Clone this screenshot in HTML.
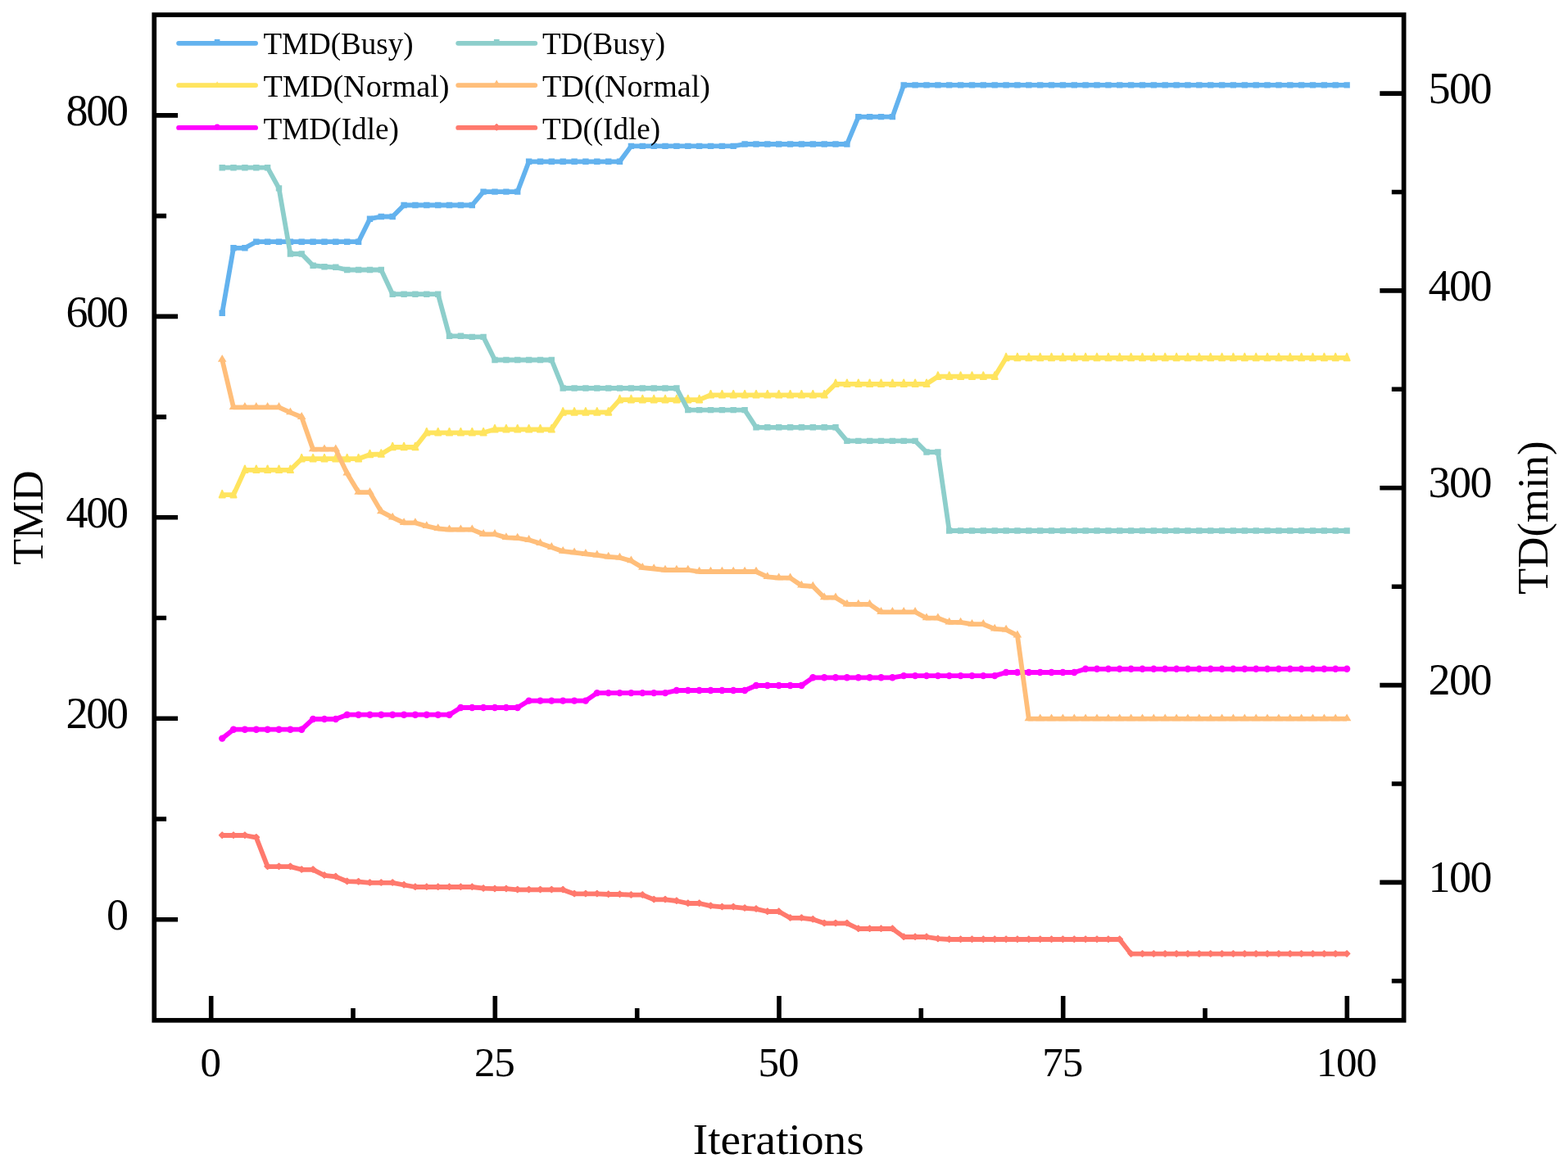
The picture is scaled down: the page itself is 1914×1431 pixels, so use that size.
<!DOCTYPE html>
<html lang="en">
<head>
<meta charset="utf-8">
<title>TMD and TD versus Iterations</title>
<style>
html,body{margin:0;padding:0;background:#fff;}
body{width:1914px;height:1431px;overflow:hidden;}
svg{display:block;}
text{font-family:"Liberation Serif","DejaVu Serif",serif;fill:#000;}
.tick{font-size:54px;letter-spacing:-2.3px;}
.tickb{font-size:51px;letter-spacing:-1.1px;}
.title{font-size:52.5px;}
.leg{font-size:37px;}
</style>
</head>
<body>
<svg width="1914" height="1431" viewBox="0 0 1914 1431">
<rect width="1914" height="1431" fill="#fff"/>
<g id="tmd_busy"><polyline points="271.2,382.2 285.0,302.8 298.9,302.8 312.8,295.2 326.6,295.2 340.5,295.2 354.4,295.2 368.2,295.2 382.1,295.2 396.0,295.2 409.8,295.2 423.7,295.2 437.6,295.2 451.5,267.2 465.3,264.5 479.2,264.5 493.1,250.5 506.9,250.5 520.8,250.5 534.7,250.5 548.5,250.5 562.4,250.5 576.3,250.5 590.1,234.1 604.0,234.1 617.9,234.1 631.7,234.1 645.6,197.3 659.5,197.3 673.3,197.3 687.2,197.3 701.1,197.3 714.9,197.3 728.8,197.3 742.7,197.3 756.5,197.3 770.4,178.4 784.3,178.4 798.2,178.4 812.0,178.4 825.9,178.4 839.8,178.4 853.6,178.4 867.5,178.4 881.4,178.4 895.2,178.4 909.1,176.0 923.0,176.0 936.8,176.0 950.7,176.0 964.6,176.0 978.4,176.0 992.3,176.0 1006.2,176.0 1020.0,176.0 1033.9,176.0 1047.8,142.6 1061.6,142.6 1075.5,142.6 1089.4,142.6 1103.2,103.9 1117.1,103.9 1131.0,103.9 1144.9,103.9 1158.7,103.9 1172.6,103.9 1186.5,103.9 1200.3,103.9 1214.2,103.9 1228.1,103.9 1241.9,103.9 1255.8,103.9 1269.7,103.9 1283.5,103.9 1297.4,103.9 1311.3,103.9 1325.1,103.9 1339.0,103.9 1352.9,103.9 1366.7,103.9 1380.6,103.9 1394.5,103.9 1408.3,103.9 1422.2,103.9 1436.1,103.9 1449.9,103.9 1463.8,103.9 1477.7,103.9 1491.6,103.9 1505.4,103.9 1519.3,103.9 1533.2,103.9 1547.0,103.9 1560.9,103.9 1574.8,103.9 1588.6,103.9 1602.5,103.9 1616.4,103.9 1630.2,103.9 1644.1,103.9" fill="none" stroke="#63B2EE" stroke-width="5.8" stroke-linejoin="round" stroke-linecap="butt"/><path d="M267.5 378.5h7.4v7.4h-7.4zM281.3 299.1h7.4v7.4h-7.4zM295.2 299.1h7.4v7.4h-7.4zM309.1 291.5h7.4v7.4h-7.4zM322.9 291.5h7.4v7.4h-7.4zM336.8 291.5h7.4v7.4h-7.4zM350.7 291.5h7.4v7.4h-7.4zM364.5 291.5h7.4v7.4h-7.4zM378.4 291.5h7.4v7.4h-7.4zM392.3 291.5h7.4v7.4h-7.4zM406.1 291.5h7.4v7.4h-7.4zM420.0 291.5h7.4v7.4h-7.4zM433.9 291.5h7.4v7.4h-7.4zM447.8 263.5h7.4v7.4h-7.4zM461.6 260.8h7.4v7.4h-7.4zM475.5 260.8h7.4v7.4h-7.4zM489.4 246.8h7.4v7.4h-7.4zM503.2 246.8h7.4v7.4h-7.4zM517.1 246.8h7.4v7.4h-7.4zM531.0 246.8h7.4v7.4h-7.4zM544.8 246.8h7.4v7.4h-7.4zM558.7 246.8h7.4v7.4h-7.4zM572.6 246.8h7.4v7.4h-7.4zM586.4 230.4h7.4v7.4h-7.4zM600.3 230.4h7.4v7.4h-7.4zM614.2 230.4h7.4v7.4h-7.4zM628.0 230.4h7.4v7.4h-7.4zM641.9 193.6h7.4v7.4h-7.4zM655.8 193.6h7.4v7.4h-7.4zM669.6 193.6h7.4v7.4h-7.4zM683.5 193.6h7.4v7.4h-7.4zM697.4 193.6h7.4v7.4h-7.4zM711.2 193.6h7.4v7.4h-7.4zM725.1 193.6h7.4v7.4h-7.4zM739.0 193.6h7.4v7.4h-7.4zM752.8 193.6h7.4v7.4h-7.4zM766.7 174.7h7.4v7.4h-7.4zM780.6 174.7h7.4v7.4h-7.4zM794.5 174.7h7.4v7.4h-7.4zM808.3 174.7h7.4v7.4h-7.4zM822.2 174.7h7.4v7.4h-7.4zM836.1 174.7h7.4v7.4h-7.4zM849.9 174.7h7.4v7.4h-7.4zM863.8 174.7h7.4v7.4h-7.4zM877.7 174.7h7.4v7.4h-7.4zM891.5 174.7h7.4v7.4h-7.4zM905.4 172.3h7.4v7.4h-7.4zM919.3 172.3h7.4v7.4h-7.4zM933.1 172.3h7.4v7.4h-7.4zM947.0 172.3h7.4v7.4h-7.4zM960.9 172.3h7.4v7.4h-7.4zM974.7 172.3h7.4v7.4h-7.4zM988.6 172.3h7.4v7.4h-7.4zM1002.5 172.3h7.4v7.4h-7.4zM1016.3 172.3h7.4v7.4h-7.4zM1030.2 172.3h7.4v7.4h-7.4zM1044.1 138.9h7.4v7.4h-7.4zM1057.9 138.9h7.4v7.4h-7.4zM1071.8 138.9h7.4v7.4h-7.4zM1085.7 138.9h7.4v7.4h-7.4zM1099.5 100.2h7.4v7.4h-7.4zM1113.4 100.2h7.4v7.4h-7.4zM1127.3 100.2h7.4v7.4h-7.4zM1141.2 100.2h7.4v7.4h-7.4zM1155.0 100.2h7.4v7.4h-7.4zM1168.9 100.2h7.4v7.4h-7.4zM1182.8 100.2h7.4v7.4h-7.4zM1196.6 100.2h7.4v7.4h-7.4zM1210.5 100.2h7.4v7.4h-7.4zM1224.4 100.2h7.4v7.4h-7.4zM1238.2 100.2h7.4v7.4h-7.4zM1252.1 100.2h7.4v7.4h-7.4zM1266.0 100.2h7.4v7.4h-7.4zM1279.8 100.2h7.4v7.4h-7.4zM1293.7 100.2h7.4v7.4h-7.4zM1307.6 100.2h7.4v7.4h-7.4zM1321.4 100.2h7.4v7.4h-7.4zM1335.3 100.2h7.4v7.4h-7.4zM1349.2 100.2h7.4v7.4h-7.4zM1363.0 100.2h7.4v7.4h-7.4zM1376.9 100.2h7.4v7.4h-7.4zM1390.8 100.2h7.4v7.4h-7.4zM1404.6 100.2h7.4v7.4h-7.4zM1418.5 100.2h7.4v7.4h-7.4zM1432.4 100.2h7.4v7.4h-7.4zM1446.2 100.2h7.4v7.4h-7.4zM1460.1 100.2h7.4v7.4h-7.4zM1474.0 100.2h7.4v7.4h-7.4zM1487.9 100.2h7.4v7.4h-7.4zM1501.7 100.2h7.4v7.4h-7.4zM1515.6 100.2h7.4v7.4h-7.4zM1529.5 100.2h7.4v7.4h-7.4zM1543.3 100.2h7.4v7.4h-7.4zM1557.2 100.2h7.4v7.4h-7.4zM1571.1 100.2h7.4v7.4h-7.4zM1584.9 100.2h7.4v7.4h-7.4zM1598.8 100.2h7.4v7.4h-7.4zM1612.7 100.2h7.4v7.4h-7.4zM1626.5 100.2h7.4v7.4h-7.4zM1640.4 100.2h7.4v7.4h-7.4z" fill="#63B2EE"/></g>
<g id="tmd_normal"><polyline points="271.2,604.2 285.0,604.2 298.9,573.8 312.8,573.8 326.6,573.8 340.5,573.8 354.4,573.8 368.2,560.2 382.1,560.2 396.0,560.2 409.8,560.2 423.7,560.2 437.6,560.2 451.5,555.0 465.3,554.5 479.2,546.0 493.1,546.0 506.9,546.0 520.8,528.3 534.7,528.3 548.5,528.3 562.4,528.3 576.3,528.3 590.1,528.3 604.0,524.3 617.9,524.3 631.7,524.3 645.6,524.3 659.5,524.3 673.3,524.3 687.2,503.4 701.1,503.4 714.9,503.4 728.8,503.4 742.7,503.4 756.5,488.1 770.4,488.1 784.3,488.1 798.2,488.1 812.0,488.1 825.9,488.1 839.8,488.1 853.6,488.1 867.5,482.3 881.4,482.3 895.2,482.3 909.1,482.3 923.0,482.3 936.8,482.3 950.7,482.3 964.6,482.3 978.4,482.3 992.3,482.3 1006.2,482.3 1020.0,468.8 1033.9,468.8 1047.8,468.8 1061.6,468.8 1075.5,468.8 1089.4,468.8 1103.2,468.8 1117.1,468.8 1131.0,468.8 1144.9,459.7 1158.7,459.7 1172.6,459.7 1186.5,459.7 1200.3,459.7 1214.2,459.7 1228.1,436.9 1241.9,436.9 1255.8,436.9 1269.7,436.9 1283.5,436.9 1297.4,436.9 1311.3,436.9 1325.1,436.9 1339.0,436.9 1352.9,436.9 1366.7,436.9 1380.6,436.9 1394.5,436.9 1408.3,436.9 1422.2,436.9 1436.1,436.9 1449.9,436.9 1463.8,436.9 1477.7,436.9 1491.6,436.9 1505.4,436.9 1519.3,436.9 1533.2,436.9 1547.0,436.9 1560.9,436.9 1574.8,436.9 1588.6,436.9 1602.5,436.9 1616.4,436.9 1630.2,436.9 1644.1,436.9" fill="none" stroke="#FFE45E" stroke-width="5.8" stroke-linejoin="round" stroke-linecap="butt"/><path d="M271.2 598.9l3.5 8.6h-7zM285.0 598.9l3.5 8.6h-7zM298.9 568.5l3.5 8.6h-7zM312.8 568.5l3.5 8.6h-7zM326.6 568.5l3.5 8.6h-7zM340.5 568.5l3.5 8.6h-7zM354.4 568.5l3.5 8.6h-7zM368.2 554.9l3.5 8.6h-7zM382.1 554.9l3.5 8.6h-7zM396.0 554.9l3.5 8.6h-7zM409.8 554.9l3.5 8.6h-7zM423.7 554.9l3.5 8.6h-7zM437.6 554.9l3.5 8.6h-7zM451.5 549.7l3.5 8.6h-7zM465.3 549.2l3.5 8.6h-7zM479.2 540.7l3.5 8.6h-7zM493.1 540.7l3.5 8.6h-7zM506.9 540.7l3.5 8.6h-7zM520.8 523.0l3.5 8.6h-7zM534.7 523.0l3.5 8.6h-7zM548.5 523.0l3.5 8.6h-7zM562.4 523.0l3.5 8.6h-7zM576.3 523.0l3.5 8.6h-7zM590.1 523.0l3.5 8.6h-7zM604.0 519.0l3.5 8.6h-7zM617.9 519.0l3.5 8.6h-7zM631.7 519.0l3.5 8.6h-7zM645.6 519.0l3.5 8.6h-7zM659.5 519.0l3.5 8.6h-7zM673.3 519.0l3.5 8.6h-7zM687.2 498.1l3.5 8.6h-7zM701.1 498.1l3.5 8.6h-7zM714.9 498.1l3.5 8.6h-7zM728.8 498.1l3.5 8.6h-7zM742.7 498.1l3.5 8.6h-7zM756.5 482.8l3.5 8.6h-7zM770.4 482.8l3.5 8.6h-7zM784.3 482.8l3.5 8.6h-7zM798.2 482.8l3.5 8.6h-7zM812.0 482.8l3.5 8.6h-7zM825.9 482.8l3.5 8.6h-7zM839.8 482.8l3.5 8.6h-7zM853.6 482.8l3.5 8.6h-7zM867.5 477.0l3.5 8.6h-7zM881.4 477.0l3.5 8.6h-7zM895.2 477.0l3.5 8.6h-7zM909.1 477.0l3.5 8.6h-7zM923.0 477.0l3.5 8.6h-7zM936.8 477.0l3.5 8.6h-7zM950.7 477.0l3.5 8.6h-7zM964.6 477.0l3.5 8.6h-7zM978.4 477.0l3.5 8.6h-7zM992.3 477.0l3.5 8.6h-7zM1006.2 477.0l3.5 8.6h-7zM1020.0 463.5l3.5 8.6h-7zM1033.9 463.5l3.5 8.6h-7zM1047.8 463.5l3.5 8.6h-7zM1061.6 463.5l3.5 8.6h-7zM1075.5 463.5l3.5 8.6h-7zM1089.4 463.5l3.5 8.6h-7zM1103.2 463.5l3.5 8.6h-7zM1117.1 463.5l3.5 8.6h-7zM1131.0 463.5l3.5 8.6h-7zM1144.9 454.4l3.5 8.6h-7zM1158.7 454.4l3.5 8.6h-7zM1172.6 454.4l3.5 8.6h-7zM1186.5 454.4l3.5 8.6h-7zM1200.3 454.4l3.5 8.6h-7zM1214.2 454.4l3.5 8.6h-7zM1228.1 431.6l3.5 8.6h-7zM1241.9 431.6l3.5 8.6h-7zM1255.8 431.6l3.5 8.6h-7zM1269.7 431.6l3.5 8.6h-7zM1283.5 431.6l3.5 8.6h-7zM1297.4 431.6l3.5 8.6h-7zM1311.3 431.6l3.5 8.6h-7zM1325.1 431.6l3.5 8.6h-7zM1339.0 431.6l3.5 8.6h-7zM1352.9 431.6l3.5 8.6h-7zM1366.7 431.6l3.5 8.6h-7zM1380.6 431.6l3.5 8.6h-7zM1394.5 431.6l3.5 8.6h-7zM1408.3 431.6l3.5 8.6h-7zM1422.2 431.6l3.5 8.6h-7zM1436.1 431.6l3.5 8.6h-7zM1449.9 431.6l3.5 8.6h-7zM1463.8 431.6l3.5 8.6h-7zM1477.7 431.6l3.5 8.6h-7zM1491.6 431.6l3.5 8.6h-7zM1505.4 431.6l3.5 8.6h-7zM1519.3 431.6l3.5 8.6h-7zM1533.2 431.6l3.5 8.6h-7zM1547.0 431.6l3.5 8.6h-7zM1560.9 431.6l3.5 8.6h-7zM1574.8 431.6l3.5 8.6h-7zM1588.6 431.6l3.5 8.6h-7zM1602.5 431.6l3.5 8.6h-7zM1616.4 431.6l3.5 8.6h-7zM1630.2 431.6l3.5 8.6h-7zM1644.1 431.6l3.5 8.6h-7z" fill="#FFE45E" stroke="#FFE45E" stroke-width="2.0" stroke-linejoin="round"/></g>
<g id="tmd_idle"><polyline points="271.2,901.6 285.0,890.7 298.9,890.7 312.8,890.7 326.6,890.7 340.5,890.7 354.4,890.7 368.2,890.7 382.1,878.0 396.0,878.0 409.8,878.0 423.7,872.7 437.6,872.7 451.5,872.7 465.3,872.7 479.2,872.7 493.1,872.7 506.9,872.7 520.8,872.7 534.7,872.7 548.5,872.7 562.4,864.0 576.3,864.0 590.1,864.0 604.0,864.0 617.9,864.0 631.7,864.0 645.6,855.6 659.5,855.6 673.3,855.6 687.2,855.6 701.1,855.6 714.9,855.6 728.8,846.1 742.7,846.1 756.5,846.1 770.4,846.1 784.3,846.1 798.2,846.1 812.0,846.1 825.9,843.0 839.8,843.0 853.6,843.0 867.5,843.0 881.4,843.0 895.2,843.0 909.1,843.0 923.0,837.0 936.8,837.0 950.7,837.0 964.6,837.0 978.4,837.0 992.3,827.3 1006.2,827.3 1020.0,827.3 1033.9,827.3 1047.8,827.3 1061.6,827.3 1075.5,827.3 1089.4,827.3 1103.2,825.1 1117.1,825.1 1131.0,825.1 1144.9,825.1 1158.7,825.1 1172.6,825.1 1186.5,825.1 1200.3,825.1 1214.2,825.1 1228.1,821.0 1241.9,821.0 1255.8,821.0 1269.7,821.0 1283.5,821.0 1297.4,821.0 1311.3,821.0 1325.1,816.8 1339.0,816.8 1352.9,816.8 1366.7,816.8 1380.6,816.8 1394.5,816.8 1408.3,816.8 1422.2,816.8 1436.1,816.8 1449.9,816.8 1463.8,816.8 1477.7,816.8 1491.6,816.8 1505.4,816.8 1519.3,816.8 1533.2,816.8 1547.0,816.8 1560.9,816.8 1574.8,816.8 1588.6,816.8 1602.5,816.8 1616.4,816.8 1630.2,816.8 1644.1,816.8" fill="none" stroke="#FF00FF" stroke-width="5.8" stroke-linejoin="round" stroke-linecap="butt"/><path d="M267.0 901.6a4.2 4.2 0 1 0 8.4 0a4.2 4.2 0 1 0 -8.4 0zM280.8 890.7a4.2 4.2 0 1 0 8.4 0a4.2 4.2 0 1 0 -8.4 0zM294.7 890.7a4.2 4.2 0 1 0 8.4 0a4.2 4.2 0 1 0 -8.4 0zM308.6 890.7a4.2 4.2 0 1 0 8.4 0a4.2 4.2 0 1 0 -8.4 0zM322.4 890.7a4.2 4.2 0 1 0 8.4 0a4.2 4.2 0 1 0 -8.4 0zM336.3 890.7a4.2 4.2 0 1 0 8.4 0a4.2 4.2 0 1 0 -8.4 0zM350.2 890.7a4.2 4.2 0 1 0 8.4 0a4.2 4.2 0 1 0 -8.4 0zM364.0 890.7a4.2 4.2 0 1 0 8.4 0a4.2 4.2 0 1 0 -8.4 0zM377.9 878.0a4.2 4.2 0 1 0 8.4 0a4.2 4.2 0 1 0 -8.4 0zM391.8 878.0a4.2 4.2 0 1 0 8.4 0a4.2 4.2 0 1 0 -8.4 0zM405.6 878.0a4.2 4.2 0 1 0 8.4 0a4.2 4.2 0 1 0 -8.4 0zM419.5 872.7a4.2 4.2 0 1 0 8.4 0a4.2 4.2 0 1 0 -8.4 0zM433.4 872.7a4.2 4.2 0 1 0 8.4 0a4.2 4.2 0 1 0 -8.4 0zM447.3 872.7a4.2 4.2 0 1 0 8.4 0a4.2 4.2 0 1 0 -8.4 0zM461.1 872.7a4.2 4.2 0 1 0 8.4 0a4.2 4.2 0 1 0 -8.4 0zM475.0 872.7a4.2 4.2 0 1 0 8.4 0a4.2 4.2 0 1 0 -8.4 0zM488.9 872.7a4.2 4.2 0 1 0 8.4 0a4.2 4.2 0 1 0 -8.4 0zM502.7 872.7a4.2 4.2 0 1 0 8.4 0a4.2 4.2 0 1 0 -8.4 0zM516.6 872.7a4.2 4.2 0 1 0 8.4 0a4.2 4.2 0 1 0 -8.4 0zM530.5 872.7a4.2 4.2 0 1 0 8.4 0a4.2 4.2 0 1 0 -8.4 0zM544.3 872.7a4.2 4.2 0 1 0 8.4 0a4.2 4.2 0 1 0 -8.4 0zM558.2 864.0a4.2 4.2 0 1 0 8.4 0a4.2 4.2 0 1 0 -8.4 0zM572.1 864.0a4.2 4.2 0 1 0 8.4 0a4.2 4.2 0 1 0 -8.4 0zM585.9 864.0a4.2 4.2 0 1 0 8.4 0a4.2 4.2 0 1 0 -8.4 0zM599.8 864.0a4.2 4.2 0 1 0 8.4 0a4.2 4.2 0 1 0 -8.4 0zM613.7 864.0a4.2 4.2 0 1 0 8.4 0a4.2 4.2 0 1 0 -8.4 0zM627.5 864.0a4.2 4.2 0 1 0 8.4 0a4.2 4.2 0 1 0 -8.4 0zM641.4 855.6a4.2 4.2 0 1 0 8.4 0a4.2 4.2 0 1 0 -8.4 0zM655.3 855.6a4.2 4.2 0 1 0 8.4 0a4.2 4.2 0 1 0 -8.4 0zM669.1 855.6a4.2 4.2 0 1 0 8.4 0a4.2 4.2 0 1 0 -8.4 0zM683.0 855.6a4.2 4.2 0 1 0 8.4 0a4.2 4.2 0 1 0 -8.4 0zM696.9 855.6a4.2 4.2 0 1 0 8.4 0a4.2 4.2 0 1 0 -8.4 0zM710.7 855.6a4.2 4.2 0 1 0 8.4 0a4.2 4.2 0 1 0 -8.4 0zM724.6 846.1a4.2 4.2 0 1 0 8.4 0a4.2 4.2 0 1 0 -8.4 0zM738.5 846.1a4.2 4.2 0 1 0 8.4 0a4.2 4.2 0 1 0 -8.4 0zM752.3 846.1a4.2 4.2 0 1 0 8.4 0a4.2 4.2 0 1 0 -8.4 0zM766.2 846.1a4.2 4.2 0 1 0 8.4 0a4.2 4.2 0 1 0 -8.4 0zM780.1 846.1a4.2 4.2 0 1 0 8.4 0a4.2 4.2 0 1 0 -8.4 0zM794.0 846.1a4.2 4.2 0 1 0 8.4 0a4.2 4.2 0 1 0 -8.4 0zM807.8 846.1a4.2 4.2 0 1 0 8.4 0a4.2 4.2 0 1 0 -8.4 0zM821.7 843.0a4.2 4.2 0 1 0 8.4 0a4.2 4.2 0 1 0 -8.4 0zM835.6 843.0a4.2 4.2 0 1 0 8.4 0a4.2 4.2 0 1 0 -8.4 0zM849.4 843.0a4.2 4.2 0 1 0 8.4 0a4.2 4.2 0 1 0 -8.4 0zM863.3 843.0a4.2 4.2 0 1 0 8.4 0a4.2 4.2 0 1 0 -8.4 0zM877.2 843.0a4.2 4.2 0 1 0 8.4 0a4.2 4.2 0 1 0 -8.4 0zM891.0 843.0a4.2 4.2 0 1 0 8.4 0a4.2 4.2 0 1 0 -8.4 0zM904.9 843.0a4.2 4.2 0 1 0 8.4 0a4.2 4.2 0 1 0 -8.4 0zM918.8 837.0a4.2 4.2 0 1 0 8.4 0a4.2 4.2 0 1 0 -8.4 0zM932.6 837.0a4.2 4.2 0 1 0 8.4 0a4.2 4.2 0 1 0 -8.4 0zM946.5 837.0a4.2 4.2 0 1 0 8.4 0a4.2 4.2 0 1 0 -8.4 0zM960.4 837.0a4.2 4.2 0 1 0 8.4 0a4.2 4.2 0 1 0 -8.4 0zM974.2 837.0a4.2 4.2 0 1 0 8.4 0a4.2 4.2 0 1 0 -8.4 0zM988.1 827.3a4.2 4.2 0 1 0 8.4 0a4.2 4.2 0 1 0 -8.4 0zM1002.0 827.3a4.2 4.2 0 1 0 8.4 0a4.2 4.2 0 1 0 -8.4 0zM1015.8 827.3a4.2 4.2 0 1 0 8.4 0a4.2 4.2 0 1 0 -8.4 0zM1029.7 827.3a4.2 4.2 0 1 0 8.4 0a4.2 4.2 0 1 0 -8.4 0zM1043.6 827.3a4.2 4.2 0 1 0 8.4 0a4.2 4.2 0 1 0 -8.4 0zM1057.4 827.3a4.2 4.2 0 1 0 8.4 0a4.2 4.2 0 1 0 -8.4 0zM1071.3 827.3a4.2 4.2 0 1 0 8.4 0a4.2 4.2 0 1 0 -8.4 0zM1085.2 827.3a4.2 4.2 0 1 0 8.4 0a4.2 4.2 0 1 0 -8.4 0zM1099.0 825.1a4.2 4.2 0 1 0 8.4 0a4.2 4.2 0 1 0 -8.4 0zM1112.9 825.1a4.2 4.2 0 1 0 8.4 0a4.2 4.2 0 1 0 -8.4 0zM1126.8 825.1a4.2 4.2 0 1 0 8.4 0a4.2 4.2 0 1 0 -8.4 0zM1140.7 825.1a4.2 4.2 0 1 0 8.4 0a4.2 4.2 0 1 0 -8.4 0zM1154.5 825.1a4.2 4.2 0 1 0 8.4 0a4.2 4.2 0 1 0 -8.4 0zM1168.4 825.1a4.2 4.2 0 1 0 8.4 0a4.2 4.2 0 1 0 -8.4 0zM1182.3 825.1a4.2 4.2 0 1 0 8.4 0a4.2 4.2 0 1 0 -8.4 0zM1196.1 825.1a4.2 4.2 0 1 0 8.4 0a4.2 4.2 0 1 0 -8.4 0zM1210.0 825.1a4.2 4.2 0 1 0 8.4 0a4.2 4.2 0 1 0 -8.4 0zM1223.9 821.0a4.2 4.2 0 1 0 8.4 0a4.2 4.2 0 1 0 -8.4 0zM1237.7 821.0a4.2 4.2 0 1 0 8.4 0a4.2 4.2 0 1 0 -8.4 0zM1251.6 821.0a4.2 4.2 0 1 0 8.4 0a4.2 4.2 0 1 0 -8.4 0zM1265.5 821.0a4.2 4.2 0 1 0 8.4 0a4.2 4.2 0 1 0 -8.4 0zM1279.3 821.0a4.2 4.2 0 1 0 8.4 0a4.2 4.2 0 1 0 -8.4 0zM1293.2 821.0a4.2 4.2 0 1 0 8.4 0a4.2 4.2 0 1 0 -8.4 0zM1307.1 821.0a4.2 4.2 0 1 0 8.4 0a4.2 4.2 0 1 0 -8.4 0zM1320.9 816.8a4.2 4.2 0 1 0 8.4 0a4.2 4.2 0 1 0 -8.4 0zM1334.8 816.8a4.2 4.2 0 1 0 8.4 0a4.2 4.2 0 1 0 -8.4 0zM1348.7 816.8a4.2 4.2 0 1 0 8.4 0a4.2 4.2 0 1 0 -8.4 0zM1362.5 816.8a4.2 4.2 0 1 0 8.4 0a4.2 4.2 0 1 0 -8.4 0zM1376.4 816.8a4.2 4.2 0 1 0 8.4 0a4.2 4.2 0 1 0 -8.4 0zM1390.3 816.8a4.2 4.2 0 1 0 8.4 0a4.2 4.2 0 1 0 -8.4 0zM1404.1 816.8a4.2 4.2 0 1 0 8.4 0a4.2 4.2 0 1 0 -8.4 0zM1418.0 816.8a4.2 4.2 0 1 0 8.4 0a4.2 4.2 0 1 0 -8.4 0zM1431.9 816.8a4.2 4.2 0 1 0 8.4 0a4.2 4.2 0 1 0 -8.4 0zM1445.7 816.8a4.2 4.2 0 1 0 8.4 0a4.2 4.2 0 1 0 -8.4 0zM1459.6 816.8a4.2 4.2 0 1 0 8.4 0a4.2 4.2 0 1 0 -8.4 0zM1473.5 816.8a4.2 4.2 0 1 0 8.4 0a4.2 4.2 0 1 0 -8.4 0zM1487.4 816.8a4.2 4.2 0 1 0 8.4 0a4.2 4.2 0 1 0 -8.4 0zM1501.2 816.8a4.2 4.2 0 1 0 8.4 0a4.2 4.2 0 1 0 -8.4 0zM1515.1 816.8a4.2 4.2 0 1 0 8.4 0a4.2 4.2 0 1 0 -8.4 0zM1529.0 816.8a4.2 4.2 0 1 0 8.4 0a4.2 4.2 0 1 0 -8.4 0zM1542.8 816.8a4.2 4.2 0 1 0 8.4 0a4.2 4.2 0 1 0 -8.4 0zM1556.7 816.8a4.2 4.2 0 1 0 8.4 0a4.2 4.2 0 1 0 -8.4 0zM1570.6 816.8a4.2 4.2 0 1 0 8.4 0a4.2 4.2 0 1 0 -8.4 0zM1584.4 816.8a4.2 4.2 0 1 0 8.4 0a4.2 4.2 0 1 0 -8.4 0zM1598.3 816.8a4.2 4.2 0 1 0 8.4 0a4.2 4.2 0 1 0 -8.4 0zM1612.2 816.8a4.2 4.2 0 1 0 8.4 0a4.2 4.2 0 1 0 -8.4 0zM1626.0 816.8a4.2 4.2 0 1 0 8.4 0a4.2 4.2 0 1 0 -8.4 0zM1639.9 816.8a4.2 4.2 0 1 0 8.4 0a4.2 4.2 0 1 0 -8.4 0z" fill="#FF00FF"/></g>
<g id="td_busy"><polyline points="271.2,204.7 285.0,204.7 298.9,204.7 312.8,204.7 326.6,204.7 340.5,229.9 354.4,310.0 368.2,310.0 382.1,324.2 396.0,325.7 409.8,326.3 423.7,329.5 437.6,329.5 451.5,329.5 465.3,329.5 479.2,359.2 493.1,359.2 506.9,359.2 520.8,359.2 534.7,359.2 548.5,410.3 562.4,410.3 576.3,411.4 590.1,411.4 604.0,439.5 617.9,439.5 631.7,439.5 645.6,439.5 659.5,439.5 673.3,439.5 687.2,474.0 701.1,474.0 714.9,474.0 728.8,474.0 742.7,474.0 756.5,474.0 770.4,474.0 784.3,474.0 798.2,474.0 812.0,474.0 825.9,474.0 839.8,500.6 853.6,500.6 867.5,500.6 881.4,500.6 895.2,500.6 909.1,500.6 923.0,521.8 936.8,521.8 950.7,521.8 964.6,521.8 978.4,521.8 992.3,521.8 1006.2,521.8 1020.0,521.8 1033.9,538.4 1047.8,538.4 1061.6,538.4 1075.5,538.4 1089.4,538.4 1103.2,538.4 1117.1,538.4 1131.0,552.0 1144.9,552.0 1158.7,648.0 1172.6,648.0 1186.5,648.0 1200.3,648.0 1214.2,648.0 1228.1,648.0 1241.9,648.0 1255.8,648.0 1269.7,648.0 1283.5,648.0 1297.4,648.0 1311.3,648.0 1325.1,648.0 1339.0,648.0 1352.9,648.0 1366.7,648.0 1380.6,648.0 1394.5,648.0 1408.3,648.0 1422.2,648.0 1436.1,648.0 1449.9,648.0 1463.8,648.0 1477.7,648.0 1491.6,648.0 1505.4,648.0 1519.3,648.0 1533.2,648.0 1547.0,648.0 1560.9,648.0 1574.8,648.0 1588.6,648.0 1602.5,648.0 1616.4,648.0 1630.2,648.0 1644.1,648.0" fill="none" stroke="#8DCECB" stroke-width="5.8" stroke-linejoin="round" stroke-linecap="butt"/><path d="M267.5 201.0h7.4v7.4h-7.4zM281.3 201.0h7.4v7.4h-7.4zM295.2 201.0h7.4v7.4h-7.4zM309.1 201.0h7.4v7.4h-7.4zM322.9 201.0h7.4v7.4h-7.4zM336.8 226.2h7.4v7.4h-7.4zM350.7 306.3h7.4v7.4h-7.4zM364.5 306.3h7.4v7.4h-7.4zM378.4 320.5h7.4v7.4h-7.4zM392.3 322.0h7.4v7.4h-7.4zM406.1 322.6h7.4v7.4h-7.4zM420.0 325.8h7.4v7.4h-7.4zM433.9 325.8h7.4v7.4h-7.4zM447.8 325.8h7.4v7.4h-7.4zM461.6 325.8h7.4v7.4h-7.4zM475.5 355.5h7.4v7.4h-7.4zM489.4 355.5h7.4v7.4h-7.4zM503.2 355.5h7.4v7.4h-7.4zM517.1 355.5h7.4v7.4h-7.4zM531.0 355.5h7.4v7.4h-7.4zM544.8 406.6h7.4v7.4h-7.4zM558.7 406.6h7.4v7.4h-7.4zM572.6 407.7h7.4v7.4h-7.4zM586.4 407.7h7.4v7.4h-7.4zM600.3 435.8h7.4v7.4h-7.4zM614.2 435.8h7.4v7.4h-7.4zM628.0 435.8h7.4v7.4h-7.4zM641.9 435.8h7.4v7.4h-7.4zM655.8 435.8h7.4v7.4h-7.4zM669.6 435.8h7.4v7.4h-7.4zM683.5 470.3h7.4v7.4h-7.4zM697.4 470.3h7.4v7.4h-7.4zM711.2 470.3h7.4v7.4h-7.4zM725.1 470.3h7.4v7.4h-7.4zM739.0 470.3h7.4v7.4h-7.4zM752.8 470.3h7.4v7.4h-7.4zM766.7 470.3h7.4v7.4h-7.4zM780.6 470.3h7.4v7.4h-7.4zM794.5 470.3h7.4v7.4h-7.4zM808.3 470.3h7.4v7.4h-7.4zM822.2 470.3h7.4v7.4h-7.4zM836.1 496.9h7.4v7.4h-7.4zM849.9 496.9h7.4v7.4h-7.4zM863.8 496.9h7.4v7.4h-7.4zM877.7 496.9h7.4v7.4h-7.4zM891.5 496.9h7.4v7.4h-7.4zM905.4 496.9h7.4v7.4h-7.4zM919.3 518.1h7.4v7.4h-7.4zM933.1 518.1h7.4v7.4h-7.4zM947.0 518.1h7.4v7.4h-7.4zM960.9 518.1h7.4v7.4h-7.4zM974.7 518.1h7.4v7.4h-7.4zM988.6 518.1h7.4v7.4h-7.4zM1002.5 518.1h7.4v7.4h-7.4zM1016.3 518.1h7.4v7.4h-7.4zM1030.2 534.7h7.4v7.4h-7.4zM1044.1 534.7h7.4v7.4h-7.4zM1057.9 534.7h7.4v7.4h-7.4zM1071.8 534.7h7.4v7.4h-7.4zM1085.7 534.7h7.4v7.4h-7.4zM1099.5 534.7h7.4v7.4h-7.4zM1113.4 534.7h7.4v7.4h-7.4zM1127.3 548.3h7.4v7.4h-7.4zM1141.2 548.3h7.4v7.4h-7.4zM1155.0 644.3h7.4v7.4h-7.4zM1168.9 644.3h7.4v7.4h-7.4zM1182.8 644.3h7.4v7.4h-7.4zM1196.6 644.3h7.4v7.4h-7.4zM1210.5 644.3h7.4v7.4h-7.4zM1224.4 644.3h7.4v7.4h-7.4zM1238.2 644.3h7.4v7.4h-7.4zM1252.1 644.3h7.4v7.4h-7.4zM1266.0 644.3h7.4v7.4h-7.4zM1279.8 644.3h7.4v7.4h-7.4zM1293.7 644.3h7.4v7.4h-7.4zM1307.6 644.3h7.4v7.4h-7.4zM1321.4 644.3h7.4v7.4h-7.4zM1335.3 644.3h7.4v7.4h-7.4zM1349.2 644.3h7.4v7.4h-7.4zM1363.0 644.3h7.4v7.4h-7.4zM1376.9 644.3h7.4v7.4h-7.4zM1390.8 644.3h7.4v7.4h-7.4zM1404.6 644.3h7.4v7.4h-7.4zM1418.5 644.3h7.4v7.4h-7.4zM1432.4 644.3h7.4v7.4h-7.4zM1446.2 644.3h7.4v7.4h-7.4zM1460.1 644.3h7.4v7.4h-7.4zM1474.0 644.3h7.4v7.4h-7.4zM1487.9 644.3h7.4v7.4h-7.4zM1501.7 644.3h7.4v7.4h-7.4zM1515.6 644.3h7.4v7.4h-7.4zM1529.5 644.3h7.4v7.4h-7.4zM1543.3 644.3h7.4v7.4h-7.4zM1557.2 644.3h7.4v7.4h-7.4zM1571.1 644.3h7.4v7.4h-7.4zM1584.9 644.3h7.4v7.4h-7.4zM1598.8 644.3h7.4v7.4h-7.4zM1612.7 644.3h7.4v7.4h-7.4zM1626.5 644.3h7.4v7.4h-7.4zM1640.4 644.3h7.4v7.4h-7.4z" fill="#8DCECB"/></g>
<g id="td_normal"><polyline points="271.2,439.2 285.0,497.3 298.9,497.3 312.8,497.3 326.6,497.3 340.5,497.3 354.4,503.6 368.2,509.3 382.1,548.7 396.0,548.7 409.8,548.7 423.7,578.0 437.6,601.1 451.5,601.1 465.3,624.6 479.2,631.9 493.1,638.4 506.9,638.4 520.8,642.4 534.7,645.5 548.5,646.6 562.4,646.6 576.3,646.6 590.1,652.3 604.0,652.3 617.9,656.4 631.7,657.0 645.6,659.3 659.5,663.5 673.3,668.3 687.2,673.2 701.1,674.6 714.9,676.3 728.8,677.8 742.7,679.9 756.5,680.9 770.4,684.7 784.3,693.1 798.2,694.5 812.0,696.0 825.9,696.0 839.8,696.0 853.6,698.0 867.5,698.0 881.4,698.0 895.2,698.0 909.1,698.0 923.0,698.0 936.8,704.4 950.7,705.6 964.6,705.6 978.4,715.0 992.3,715.9 1006.2,729.7 1020.0,729.7 1033.9,737.9 1047.8,737.9 1061.6,737.9 1075.5,747.3 1089.4,747.3 1103.2,747.3 1117.1,747.3 1131.0,754.7 1144.9,754.7 1158.7,759.9 1172.6,759.9 1186.5,762.2 1200.3,762.2 1214.2,767.9 1228.1,768.9 1241.9,775.8 1255.8,877.6 1269.7,877.6 1283.5,877.6 1297.4,877.6 1311.3,877.6 1325.1,877.6 1339.0,877.6 1352.9,877.6 1366.7,877.6 1380.6,877.6 1394.5,877.6 1408.3,877.6 1422.2,877.6 1436.1,877.6 1449.9,877.6 1463.8,877.6 1477.7,877.6 1491.6,877.6 1505.4,877.6 1519.3,877.6 1533.2,877.6 1547.0,877.6 1560.9,877.6 1574.8,877.6 1588.6,877.6 1602.5,877.6 1616.4,877.6 1630.2,877.6 1644.1,877.6" fill="none" stroke="#FFBE7A" stroke-width="5.8" stroke-linejoin="round" stroke-linecap="butt"/><path d="M271.2 433.0l5.3 8.8h-10.6zM285.0 491.1l5.3 8.8h-10.6zM298.9 491.1l5.3 8.8h-10.6zM312.8 491.1l5.3 8.8h-10.6zM326.6 491.1l5.3 8.8h-10.6zM340.5 491.1l5.3 8.8h-10.6zM354.4 497.4l5.3 8.8h-10.6zM368.2 503.1l5.3 8.8h-10.6zM382.1 542.5l5.3 8.8h-10.6zM396.0 542.5l5.3 8.8h-10.6zM409.8 542.5l5.3 8.8h-10.6zM423.7 571.8l5.3 8.8h-10.6zM437.6 594.9l5.3 8.8h-10.6zM451.5 594.9l5.3 8.8h-10.6zM465.3 618.4l5.3 8.8h-10.6zM479.2 625.7l5.3 8.8h-10.6zM493.1 632.2l5.3 8.8h-10.6zM506.9 632.2l5.3 8.8h-10.6zM520.8 636.2l5.3 8.8h-10.6zM534.7 639.3l5.3 8.8h-10.6zM548.5 640.4l5.3 8.8h-10.6zM562.4 640.4l5.3 8.8h-10.6zM576.3 640.4l5.3 8.8h-10.6zM590.1 646.1l5.3 8.8h-10.6zM604.0 646.1l5.3 8.8h-10.6zM617.9 650.2l5.3 8.8h-10.6zM631.7 650.8l5.3 8.8h-10.6zM645.6 653.1l5.3 8.8h-10.6zM659.5 657.3l5.3 8.8h-10.6zM673.3 662.1l5.3 8.8h-10.6zM687.2 667.0l5.3 8.8h-10.6zM701.1 668.4l5.3 8.8h-10.6zM714.9 670.1l5.3 8.8h-10.6zM728.8 671.6l5.3 8.8h-10.6zM742.7 673.7l5.3 8.8h-10.6zM756.5 674.7l5.3 8.8h-10.6zM770.4 678.5l5.3 8.8h-10.6zM784.3 686.9l5.3 8.8h-10.6zM798.2 688.3l5.3 8.8h-10.6zM812.0 689.8l5.3 8.8h-10.6zM825.9 689.8l5.3 8.8h-10.6zM839.8 689.8l5.3 8.8h-10.6zM853.6 691.8l5.3 8.8h-10.6zM867.5 691.8l5.3 8.8h-10.6zM881.4 691.8l5.3 8.8h-10.6zM895.2 691.8l5.3 8.8h-10.6zM909.1 691.8l5.3 8.8h-10.6zM923.0 691.8l5.3 8.8h-10.6zM936.8 698.2l5.3 8.8h-10.6zM950.7 699.4l5.3 8.8h-10.6zM964.6 699.4l5.3 8.8h-10.6zM978.4 708.8l5.3 8.8h-10.6zM992.3 709.7l5.3 8.8h-10.6zM1006.2 723.5l5.3 8.8h-10.6zM1020.0 723.5l5.3 8.8h-10.6zM1033.9 731.7l5.3 8.8h-10.6zM1047.8 731.7l5.3 8.8h-10.6zM1061.6 731.7l5.3 8.8h-10.6zM1075.5 741.1l5.3 8.8h-10.6zM1089.4 741.1l5.3 8.8h-10.6zM1103.2 741.1l5.3 8.8h-10.6zM1117.1 741.1l5.3 8.8h-10.6zM1131.0 748.5l5.3 8.8h-10.6zM1144.9 748.5l5.3 8.8h-10.6zM1158.7 753.7l5.3 8.8h-10.6zM1172.6 753.7l5.3 8.8h-10.6zM1186.5 756.0l5.3 8.8h-10.6zM1200.3 756.0l5.3 8.8h-10.6zM1214.2 761.7l5.3 8.8h-10.6zM1228.1 762.7l5.3 8.8h-10.6zM1241.9 769.6l5.3 8.8h-10.6zM1255.8 871.4l5.3 8.8h-10.6zM1269.7 871.4l5.3 8.8h-10.6zM1283.5 871.4l5.3 8.8h-10.6zM1297.4 871.4l5.3 8.8h-10.6zM1311.3 871.4l5.3 8.8h-10.6zM1325.1 871.4l5.3 8.8h-10.6zM1339.0 871.4l5.3 8.8h-10.6zM1352.9 871.4l5.3 8.8h-10.6zM1366.7 871.4l5.3 8.8h-10.6zM1380.6 871.4l5.3 8.8h-10.6zM1394.5 871.4l5.3 8.8h-10.6zM1408.3 871.4l5.3 8.8h-10.6zM1422.2 871.4l5.3 8.8h-10.6zM1436.1 871.4l5.3 8.8h-10.6zM1449.9 871.4l5.3 8.8h-10.6zM1463.8 871.4l5.3 8.8h-10.6zM1477.7 871.4l5.3 8.8h-10.6zM1491.6 871.4l5.3 8.8h-10.6zM1505.4 871.4l5.3 8.8h-10.6zM1519.3 871.4l5.3 8.8h-10.6zM1533.2 871.4l5.3 8.8h-10.6zM1547.0 871.4l5.3 8.8h-10.6zM1560.9 871.4l5.3 8.8h-10.6zM1574.8 871.4l5.3 8.8h-10.6zM1588.6 871.4l5.3 8.8h-10.6zM1602.5 871.4l5.3 8.8h-10.6zM1616.4 871.4l5.3 8.8h-10.6zM1630.2 871.4l5.3 8.8h-10.6zM1644.1 871.4l5.3 8.8h-10.6z" fill="#FFBE7A"/></g>
<g id="td_idle"><polyline points="271.2,1020.0 285.0,1020.0 298.9,1020.0 312.8,1022.6 326.6,1058.1 340.5,1058.1 354.4,1058.1 368.2,1061.8 382.1,1061.8 396.0,1068.9 409.8,1070.4 423.7,1076.2 437.6,1076.6 451.5,1077.8 465.3,1077.8 479.2,1077.8 493.1,1080.5 506.9,1083.0 520.8,1083.0 534.7,1083.0 548.5,1083.0 562.4,1083.0 576.3,1083.0 590.1,1084.7 604.0,1085.2 617.9,1085.2 631.7,1086.4 645.6,1086.4 659.5,1086.4 673.3,1086.4 687.2,1086.4 701.1,1091.4 714.9,1091.4 728.8,1091.4 742.7,1092.0 756.5,1092.0 770.4,1092.7 784.3,1092.7 798.2,1098.4 812.0,1098.4 825.9,1100.0 839.8,1103.0 853.6,1103.0 867.5,1106.1 881.4,1107.4 895.2,1107.4 909.1,1108.8 923.0,1109.9 936.8,1113.0 950.7,1113.0 964.6,1120.8 978.4,1120.8 992.3,1122.5 1006.2,1127.3 1020.0,1127.3 1033.9,1127.3 1047.8,1134.0 1061.6,1134.0 1075.5,1134.0 1089.4,1134.0 1103.2,1144.0 1117.1,1144.0 1131.0,1144.0 1144.9,1146.2 1158.7,1147.0 1172.6,1147.0 1186.5,1147.0 1200.3,1147.0 1214.2,1147.0 1228.1,1147.0 1241.9,1147.0 1255.8,1147.0 1269.7,1147.0 1283.5,1147.0 1297.4,1147.0 1311.3,1147.0 1325.1,1147.0 1339.0,1147.0 1352.9,1147.0 1366.7,1147.0 1380.6,1164.7 1394.5,1164.7 1408.3,1164.7 1422.2,1164.7 1436.1,1164.7 1449.9,1164.7 1463.8,1164.7 1477.7,1164.7 1491.6,1164.7 1505.4,1164.7 1519.3,1164.7 1533.2,1164.7 1547.0,1164.7 1560.9,1164.7 1574.8,1164.7 1588.6,1164.7 1602.5,1164.7 1616.4,1164.7 1630.2,1164.7 1644.1,1164.7" fill="none" stroke="#FF796D" stroke-width="5.8" stroke-linejoin="round" stroke-linecap="butt"/><path d="M271.2 1016.4l3.3 3.3l-3.3 3.3l-3.3 -3.3zM285.0 1016.4l3.3 3.3l-3.3 3.3l-3.3 -3.3zM298.9 1016.4l3.3 3.3l-3.3 3.3l-3.3 -3.3zM312.8 1019.0l3.3 3.3l-3.3 3.3l-3.3 -3.3zM326.6 1054.5l3.3 3.3l-3.3 3.3l-3.3 -3.3zM340.5 1054.5l3.3 3.3l-3.3 3.3l-3.3 -3.3zM354.4 1054.5l3.3 3.3l-3.3 3.3l-3.3 -3.3zM368.2 1058.2l3.3 3.3l-3.3 3.3l-3.3 -3.3zM382.1 1058.2l3.3 3.3l-3.3 3.3l-3.3 -3.3zM396.0 1065.3l3.3 3.3l-3.3 3.3l-3.3 -3.3zM409.8 1066.8l3.3 3.3l-3.3 3.3l-3.3 -3.3zM423.7 1072.6l3.3 3.3l-3.3 3.3l-3.3 -3.3zM437.6 1073.0l3.3 3.3l-3.3 3.3l-3.3 -3.3zM451.5 1074.2l3.3 3.3l-3.3 3.3l-3.3 -3.3zM465.3 1074.2l3.3 3.3l-3.3 3.3l-3.3 -3.3zM479.2 1074.2l3.3 3.3l-3.3 3.3l-3.3 -3.3zM493.1 1076.9l3.3 3.3l-3.3 3.3l-3.3 -3.3zM506.9 1079.4l3.3 3.3l-3.3 3.3l-3.3 -3.3zM520.8 1079.4l3.3 3.3l-3.3 3.3l-3.3 -3.3zM534.7 1079.4l3.3 3.3l-3.3 3.3l-3.3 -3.3zM548.5 1079.4l3.3 3.3l-3.3 3.3l-3.3 -3.3zM562.4 1079.4l3.3 3.3l-3.3 3.3l-3.3 -3.3zM576.3 1079.4l3.3 3.3l-3.3 3.3l-3.3 -3.3zM590.1 1081.1l3.3 3.3l-3.3 3.3l-3.3 -3.3zM604.0 1081.6l3.3 3.3l-3.3 3.3l-3.3 -3.3zM617.9 1081.6l3.3 3.3l-3.3 3.3l-3.3 -3.3zM631.7 1082.8l3.3 3.3l-3.3 3.3l-3.3 -3.3zM645.6 1082.8l3.3 3.3l-3.3 3.3l-3.3 -3.3zM659.5 1082.8l3.3 3.3l-3.3 3.3l-3.3 -3.3zM673.3 1082.8l3.3 3.3l-3.3 3.3l-3.3 -3.3zM687.2 1082.8l3.3 3.3l-3.3 3.3l-3.3 -3.3zM701.1 1087.8l3.3 3.3l-3.3 3.3l-3.3 -3.3zM714.9 1087.8l3.3 3.3l-3.3 3.3l-3.3 -3.3zM728.8 1087.8l3.3 3.3l-3.3 3.3l-3.3 -3.3zM742.7 1088.4l3.3 3.3l-3.3 3.3l-3.3 -3.3zM756.5 1088.4l3.3 3.3l-3.3 3.3l-3.3 -3.3zM770.4 1089.1l3.3 3.3l-3.3 3.3l-3.3 -3.3zM784.3 1089.1l3.3 3.3l-3.3 3.3l-3.3 -3.3zM798.2 1094.8l3.3 3.3l-3.3 3.3l-3.3 -3.3zM812.0 1094.8l3.3 3.3l-3.3 3.3l-3.3 -3.3zM825.9 1096.4l3.3 3.3l-3.3 3.3l-3.3 -3.3zM839.8 1099.4l3.3 3.3l-3.3 3.3l-3.3 -3.3zM853.6 1099.4l3.3 3.3l-3.3 3.3l-3.3 -3.3zM867.5 1102.5l3.3 3.3l-3.3 3.3l-3.3 -3.3zM881.4 1103.8l3.3 3.3l-3.3 3.3l-3.3 -3.3zM895.2 1103.8l3.3 3.3l-3.3 3.3l-3.3 -3.3zM909.1 1105.2l3.3 3.3l-3.3 3.3l-3.3 -3.3zM923.0 1106.3l3.3 3.3l-3.3 3.3l-3.3 -3.3zM936.8 1109.4l3.3 3.3l-3.3 3.3l-3.3 -3.3zM950.7 1109.4l3.3 3.3l-3.3 3.3l-3.3 -3.3zM964.6 1117.2l3.3 3.3l-3.3 3.3l-3.3 -3.3zM978.4 1117.2l3.3 3.3l-3.3 3.3l-3.3 -3.3zM992.3 1118.9l3.3 3.3l-3.3 3.3l-3.3 -3.3zM1006.2 1123.7l3.3 3.3l-3.3 3.3l-3.3 -3.3zM1020.0 1123.7l3.3 3.3l-3.3 3.3l-3.3 -3.3zM1033.9 1123.7l3.3 3.3l-3.3 3.3l-3.3 -3.3zM1047.8 1130.4l3.3 3.3l-3.3 3.3l-3.3 -3.3zM1061.6 1130.4l3.3 3.3l-3.3 3.3l-3.3 -3.3zM1075.5 1130.4l3.3 3.3l-3.3 3.3l-3.3 -3.3zM1089.4 1130.4l3.3 3.3l-3.3 3.3l-3.3 -3.3zM1103.2 1140.4l3.3 3.3l-3.3 3.3l-3.3 -3.3zM1117.1 1140.4l3.3 3.3l-3.3 3.3l-3.3 -3.3zM1131.0 1140.4l3.3 3.3l-3.3 3.3l-3.3 -3.3zM1144.9 1142.6l3.3 3.3l-3.3 3.3l-3.3 -3.3zM1158.7 1143.4l3.3 3.3l-3.3 3.3l-3.3 -3.3zM1172.6 1143.4l3.3 3.3l-3.3 3.3l-3.3 -3.3zM1186.5 1143.4l3.3 3.3l-3.3 3.3l-3.3 -3.3zM1200.3 1143.4l3.3 3.3l-3.3 3.3l-3.3 -3.3zM1214.2 1143.4l3.3 3.3l-3.3 3.3l-3.3 -3.3zM1228.1 1143.4l3.3 3.3l-3.3 3.3l-3.3 -3.3zM1241.9 1143.4l3.3 3.3l-3.3 3.3l-3.3 -3.3zM1255.8 1143.4l3.3 3.3l-3.3 3.3l-3.3 -3.3zM1269.7 1143.4l3.3 3.3l-3.3 3.3l-3.3 -3.3zM1283.5 1143.4l3.3 3.3l-3.3 3.3l-3.3 -3.3zM1297.4 1143.4l3.3 3.3l-3.3 3.3l-3.3 -3.3zM1311.3 1143.4l3.3 3.3l-3.3 3.3l-3.3 -3.3zM1325.1 1143.4l3.3 3.3l-3.3 3.3l-3.3 -3.3zM1339.0 1143.4l3.3 3.3l-3.3 3.3l-3.3 -3.3zM1352.9 1143.4l3.3 3.3l-3.3 3.3l-3.3 -3.3zM1366.7 1143.4l3.3 3.3l-3.3 3.3l-3.3 -3.3zM1380.6 1161.1l3.3 3.3l-3.3 3.3l-3.3 -3.3zM1394.5 1161.1l3.3 3.3l-3.3 3.3l-3.3 -3.3zM1408.3 1161.1l3.3 3.3l-3.3 3.3l-3.3 -3.3zM1422.2 1161.1l3.3 3.3l-3.3 3.3l-3.3 -3.3zM1436.1 1161.1l3.3 3.3l-3.3 3.3l-3.3 -3.3zM1449.9 1161.1l3.3 3.3l-3.3 3.3l-3.3 -3.3zM1463.8 1161.1l3.3 3.3l-3.3 3.3l-3.3 -3.3zM1477.7 1161.1l3.3 3.3l-3.3 3.3l-3.3 -3.3zM1491.6 1161.1l3.3 3.3l-3.3 3.3l-3.3 -3.3zM1505.4 1161.1l3.3 3.3l-3.3 3.3l-3.3 -3.3zM1519.3 1161.1l3.3 3.3l-3.3 3.3l-3.3 -3.3zM1533.2 1161.1l3.3 3.3l-3.3 3.3l-3.3 -3.3zM1547.0 1161.1l3.3 3.3l-3.3 3.3l-3.3 -3.3zM1560.9 1161.1l3.3 3.3l-3.3 3.3l-3.3 -3.3zM1574.8 1161.1l3.3 3.3l-3.3 3.3l-3.3 -3.3zM1588.6 1161.1l3.3 3.3l-3.3 3.3l-3.3 -3.3zM1602.5 1161.1l3.3 3.3l-3.3 3.3l-3.3 -3.3zM1616.4 1161.1l3.3 3.3l-3.3 3.3l-3.3 -3.3zM1630.2 1161.1l3.3 3.3l-3.3 3.3l-3.3 -3.3zM1644.1 1161.1l3.3 3.3l-3.3 3.3l-3.3 -3.3z" fill="#FF796D" stroke="#FF796D" stroke-width="2.0" stroke-linejoin="round"/></g>
<rect x="188.25" y="18.1" width="1525.35" height="1227.70" fill="none" stroke="#000" stroke-width="5.7"/>
<path d="M190.1 1122.7h27M190.1 1000.0h13M190.1 877.2h27M190.1 754.5h13M190.1 631.8h27M190.1 509.1h13M190.1 386.4h27M190.1 263.6h13M190.1 140.9h27M1711.8 1197.8h-13M1711.8 1077.4h-27.5M1711.8 957.0h-13M1711.8 836.6h-27.5M1711.8 716.2h-13M1711.8 595.8h-27.5M1711.8 475.3h-13M1711.8 354.9h-27.5M1711.8 234.5h-13M1711.8 114.1h-27.5M257.7 1244.0v-28M431.0 1244.0v-13M604.3 1244.0v-28M777.7 1244.0v-13M951.0 1244.0v-28M1124.3 1244.0v-13M1297.7 1244.0v-28M1471.0 1244.0v-13M1644.3 1244.0v-28" fill="none" stroke="#000" stroke-width="5.6"/>
<text class="tick" x="154.6" y="1134.8" text-anchor="end">0</text>
<text class="tick" x="154.6" y="889.4" text-anchor="end">200</text>
<text class="tick" x="154.6" y="643.9" text-anchor="end">400</text>
<text class="tick" x="154.6" y="398.5" text-anchor="end">600</text>
<text class="tick" x="154.6" y="153.0" text-anchor="end">800</text>
<text class="tick" x="1743.4" y="1089.0" text-anchor="start" style="letter-spacing:-1.5px">100</text>
<text class="tick" x="1743.4" y="848.2" text-anchor="start" style="letter-spacing:-1.5px">200</text>
<text class="tick" x="1743.4" y="607.4" text-anchor="start" style="letter-spacing:-1.5px">300</text>
<text class="tick" x="1743.4" y="366.5" text-anchor="start" style="letter-spacing:-1.5px">400</text>
<text class="tick" x="1743.4" y="125.7" text-anchor="start" style="letter-spacing:-1.5px">500</text>
<text class="tickb" x="256.7" y="1314" text-anchor="middle">0</text>
<text class="tickb" x="603.3" y="1314" text-anchor="middle">25</text>
<text class="tickb" x="950.0" y="1314" text-anchor="middle">50</text>
<text class="tickb" x="1296.7" y="1314" text-anchor="middle">75</text>
<text class="tickb" x="1643.3" y="1314" text-anchor="middle">100</text>
<text class="title" x="950.3" y="1408.7" text-anchor="middle" textLength="209" lengthAdjust="spacingAndGlyphs">Iterations</text>
<text class="title" transform="translate(51.6 632.1) rotate(-90)" text-anchor="middle" textLength="115.5" lengthAdjust="spacingAndGlyphs">TMD</text>
<text class="title" transform="translate(1889.2 632.2) rotate(-90)" text-anchor="middle" textLength="187.5" lengthAdjust="spacingAndGlyphs">TD(min)</text>
<g><line x1="218.1" y1="52.8" x2="312.1" y2="52.8" stroke="#63B2EE" stroke-width="5.8" stroke-linecap="round"/><path d="M261.75 47.90h6.7v6.7h-6.7z" fill="#63B2EE"/></g>
<text class="leg" x="321.5" y="66.4" text-anchor="start" textLength="183" lengthAdjust="spacingAndGlyphs">TMD(Busy)</text>
<g><line x1="218.1" y1="104.1" x2="312.1" y2="104.1" stroke="#FFE45E" stroke-width="5.8" stroke-linecap="round"/><path d="M265.10 99.30l3.6 6.8h-7.2z" fill="#FFE45E"/></g>
<text class="leg" x="321.5" y="117.7" text-anchor="start" textLength="227" lengthAdjust="spacingAndGlyphs">TMD(Normal)</text>
<g><line x1="218.1" y1="155.9" x2="312.1" y2="155.9" stroke="#FF00FF" stroke-width="5.8" stroke-linecap="round"/><circle cx="265.10" cy="154.90" r="3.4" fill="#FF00FF"/></g>
<text class="leg" x="321.5" y="169.5" text-anchor="start" textLength="165.5" lengthAdjust="spacingAndGlyphs">TMD(Idle)</text>
<g><line x1="559.2" y1="52.8" x2="653.3" y2="52.8" stroke="#8DCECB" stroke-width="5.8" stroke-linecap="round"/><path d="M602.90 47.90h6.7v6.7h-6.7z" fill="#8DCECB"/></g>
<text class="leg" x="662" y="66.4" text-anchor="start" textLength="150" lengthAdjust="spacingAndGlyphs">TD(Busy)</text>
<g><line x1="559.2" y1="104.1" x2="653.3" y2="104.1" stroke="#FFBE7A" stroke-width="5.8" stroke-linecap="round"/><path d="M606.2 97.6l5.3 8.8h-10.6z" fill="#FFBE7A"/></g>
<text class="leg" x="662" y="117.7" text-anchor="start" textLength="205" lengthAdjust="spacingAndGlyphs">TD((Normal)</text>
<g><line x1="559.2" y1="155.9" x2="653.3" y2="155.9" stroke="#FF796D" stroke-width="5.8" stroke-linecap="round"/><path d="M606.2 152.0l3.3 3.3l-3.3 3.3l-3.3 -3.3z" fill="#FF796D" stroke="#FF796D" stroke-width="2.0" stroke-linejoin="round"/></g>
<text class="leg" x="662" y="169.5" text-anchor="start" textLength="144" lengthAdjust="spacingAndGlyphs">TD((Idle)</text>
</svg>
</body>
</html>
